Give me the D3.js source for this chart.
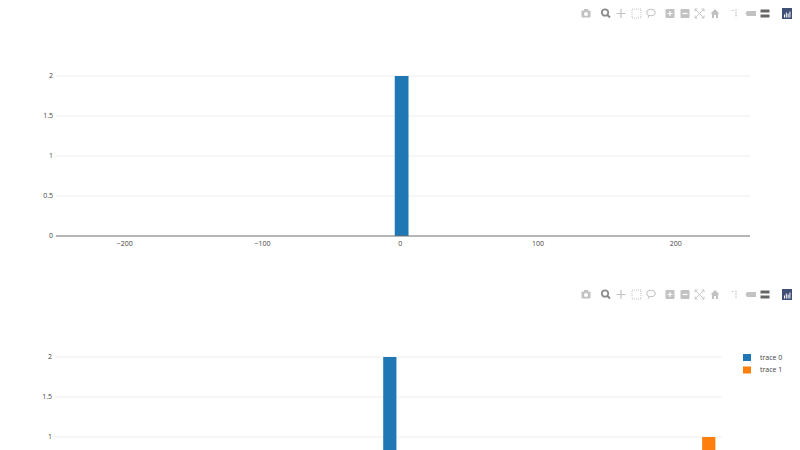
<!DOCTYPE html>
<html>
<head>
<meta charset="utf-8">
<script src="https://cdn.jsdelivr.net/npm/d3@7"></script>
<style>
  html, body { margin: 0; padding: 0; background: #fff; overflow: hidden; }
  svg text { font-family: "Open Sans", "DejaVu Sans", sans-serif; }
</style>
</head>
<body>
<svg id="chart" width="800" height="450"></svg>
<script>
// ---- data ----
const xTicks = [-200, -100, 0, 100, 200];
const yTicks = [0, 0.5, 1, 1.5, 2];
const traceNames = ["trace 0", "trace 1"];
const traceColors = ["#1f77b4", "#ff7f0e"];
// chart 1: only trace 0
const chart1Trace0X = [1];
const chart1Trace0Y = [2];
// chart 2: trace 0 and trace 1
const chart2Trace0X = [3];
const chart2Trace0Y = [2];
const chart2Trace1X = [244];
const chart2Trace1Y = [1];
const barWidth = 10;
const xDomain = [-250, 254];
const yDomain = [0, 2.105];

const svg = d3.select("#chart");
const pageHeight = 450;

function drawModebar(g) {
  const light = "#c2c2c2", mid = "#8a8a8a";
  let c = g.append("g").attr("transform", "translate(586,0)");
  c.append("rect").attr("x", -4.5).attr("y", -3).attr("width", 9).attr("height", 7).attr("rx", 1).attr("fill", light);
  c.append("rect").attr("x", -2).attr("y", -4.5).attr("width", 4).attr("height", 2).attr("fill", light);
  c.append("circle").attr("r", 2).attr("cy", 0.5).attr("fill", "#fff");
  c = g.append("g").attr("transform", "translate(606,0)");
  c.append("circle").attr("cx", -1).attr("cy", -1).attr("r", 3.2).attr("fill", "none").attr("stroke", mid).attr("stroke-width", 1.8);
  c.append("line").attr("x1", 1.2).attr("y1", 1.2).attr("x2", 4).attr("y2", 4).attr("stroke", mid).attr("stroke-width", 2);
  c = g.append("g").attr("transform", "translate(621,0)");
  c.append("path").attr("d", "M-4.5,0H4.5M0,-4.5V4.5").attr("stroke", light).attr("stroke-width", 1.2);
  c = g.append("g").attr("transform", "translate(636.5,0)");
  c.append("rect").attr("x", -4.5).attr("y", -4.5).attr("width", 9).attr("height", 9).attr("fill", "none").attr("stroke", light).attr("stroke-dasharray", "1,1");
  c = g.append("g").attr("transform", "translate(651,0)");
  c.append("ellipse").attr("rx", 4.2).attr("ry", 3.3).attr("cy", -1).attr("fill", "none").attr("stroke", light).attr("stroke-width", 1.1);
  c.append("path").attr("d", "M-2,2 L-3,4.5").attr("stroke", light);
  c = g.append("g").attr("transform", "translate(670,0)");
  c.append("rect").attr("x", -4.5).attr("y", -4.5).attr("width", 9).attr("height", 9).attr("rx", 1).attr("fill", light);
  c.append("path").attr("d", "M-2.5,0H2.5M0,-2.5V2.5").attr("stroke", "#fff").attr("stroke-width", 1.2);
  c = g.append("g").attr("transform", "translate(685,0)");
  c.append("rect").attr("x", -4.5).attr("y", -4.5).attr("width", 9).attr("height", 9).attr("rx", 1).attr("fill", light);
  c.append("path").attr("d", "M-2.5,0H2.5").attr("stroke", "#fff").attr("stroke-width", 1.2);
  c = g.append("g").attr("transform", "translate(699.5,0)");
  c.append("path").attr("d", "M-4.5,-4.5L4.5,4.5M4.5,-4.5L-4.5,4.5M-4.5,-4.5h2.5M-4.5,-4.5v2.5M4.5,4.5h-2.5M4.5,4.5v-2.5M4.5,-4.5h-2.5M4.5,-4.5v2.5M-4.5,4.5h2.5M-4.5,4.5v-2.5")
    .attr("stroke", light).attr("stroke-width", 0.9).attr("fill", "none");
  c = g.append("g").attr("transform", "translate(715,0)");
  c.append("path").attr("d", "M0,-4.5L4.5,0H3V4.5H1V1.5H-1V4.5H-3V0H-4.5Z").attr("fill", light);
  c = g.append("g").attr("transform", "translate(735,0)");
  c.append("path").attr("d", "M-3,-3H-1M1,-4V4").attr("stroke", light).attr("stroke-width", 1.2).attr("stroke-dasharray", "1.5,1");
  c = g.append("g").attr("transform", "translate(751.5,0)");
  c.append("path").attr("d", "M-4.5,-2.5H4.5V2.5H-4.5L-6,0Z").attr("fill", light);
  c = g.append("g").attr("transform", "translate(765,0)");
  c.append("path").attr("d", "M-4.5,-4H4.5V-1H-4.5Z M-4.5,1H4.5V4H-4.5Z").attr("fill", "#666");
  c = g.append("g").attr("transform", "translate(787,0)");
  c.append("rect").attr("x", -5).attr("y", -5.5).attr("width", 10).attr("height", 11).attr("fill", "#3f4f75");
  [[-2.5, 1], [-0.7, -1], [1.1, 0], [2.9, -2]].forEach(([bx, by]) => {
    c.append("rect").attr("x", bx - 0.5).attr("y", by).attr("width", 1).attr("height", 4 - by).attr("fill", "#fff");
  });
}

function drawChart(offsetY, left, right, traces, showLegend) {
  const g = svg.append("g").attr("transform", `translate(0,${offsetY})`);
  const y0 = 236;
  const x = d3.scaleLinear().domain(xDomain).range([left, right]);
  const y = d3.scaleLinear().domain(yDomain).range([y0, y0 - 168.4]);
  const visible = py => offsetY + py < pageHeight - 5;

  drawModebar(g.append("g").attr("transform", "translate(0,13.5)"));

  g.append("g").selectAll("line").data(yTicks.filter(d => d !== 0)).join("line")
    .attr("x1", left).attr("x2", right)
    .attr("y1", d => y(d)).attr("y2", d => y(d))
    .attr("stroke", "#eee").attr("stroke-width", 1);

  traces.forEach(t => {
    g.append("g").selectAll("rect").data(t.x.map((xv, i) => ({ x: xv, y: t.y[i] }))).join("rect")
      .attr("x", d => x(d.x - barWidth / 2))
      .attr("width", d => x(d.x + barWidth / 2) - x(d.x - barWidth / 2))
      .attr("y", d => y(d.y))
      .attr("height", d => y(0) - y(d.y))
      .attr("fill", t.color);
  });

  g.append("line").attr("x1", left).attr("x2", right).attr("y1", y(0)).attr("y2", y(0))
    .attr("stroke", "#6e6e6e").attr("stroke-width", 1);

  // y tick labels (only those inside the page)
  g.append("g").selectAll("text").data(yTicks.filter(d => visible(y(d)))).join("text")
    .attr("x", left - 3).attr("y", d => y(d)).attr("dy", "0.35em")
    .attr("text-anchor", "end").attr("font-size", 7).attr("fill", "#444")
    .text(d => d3.format("")(d));

  // x tick labels (only if inside the page)
  if (visible(y0 + 12)) {
    g.append("g").selectAll("text").data(xTicks).join("text")
      .attr("x", d => x(d)).attr("y", y0 + 9.5)
      .attr("text-anchor", "middle").attr("font-size", 7).attr("fill", "#444")
      .text(d => (d < 0 ? "\u2212" + Math.abs(d) : String(d)));
  }

  if (showLegend) {
    const lg = g.append("g").attr("transform", "translate(743,73)");
    traces.forEach((t, i) => {
      const row = lg.append("g").attr("transform", `translate(0,${i * 12.5})`);
      row.append("rect").attr("x", 0).attr("y", 0).attr("width", 8).attr("height", 7).attr("fill", t.color);
      row.append("text").attr("x", 17).attr("y", 3.5).attr("dy", "0.35em")
        .attr("font-size", 7).attr("fill", "#444").text(t.name);
    });
  }
}

drawChart(0, 56, 750, [
  { name: traceNames[0], color: traceColors[0], x: chart1Trace0X, y: chart1Trace0Y }
], false);

drawChart(281, 55, 722, [
  { name: traceNames[0], color: traceColors[0], x: chart2Trace0X, y: chart2Trace0Y },
  { name: traceNames[1], color: traceColors[1], x: chart2Trace1X, y: chart2Trace1Y }
], true);
</script>
</body>
</html>
